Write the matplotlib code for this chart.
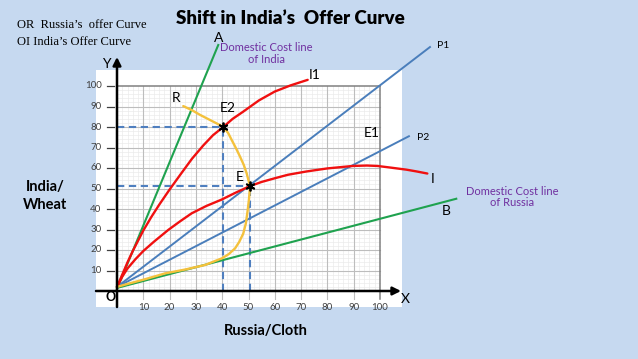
import matplotlib
matplotlib.use("Agg")
import matplotlib.pyplot as plt
from matplotlib.patches import Rectangle

# ---------------- data ----------------
x_ticks = [10, 20, 30, 40, 50, 60, 70, 80, 90, 100]
y_ticks = [10, 20, 30, 40, 50, 60, 70, 80, 90, 100]

# straight lines (start, end)
line_OA_x = [0, 38.5]
line_OA_y = [1, 120]
line_OB_x = [0, 129]
line_OB_y = [1.5, 45]
line_P1_x = [0, 119]
line_P1_y = [2, 119]
line_P2_x = [0, 111]
line_P2_y = [2, 75.5]

# India's offer curve OI1 (shifted)
oi1_x = [0, 2, 4, 6, 8, 10, 13, 16, 20, 24.5, 28.5, 32.8, 36.5,
         40.4, 44, 48, 54, 60, 66, 72.5]
oi1_y = [2, 8, 14, 19.5, 24.5, 29.5, 36, 42, 49.5, 57.5, 64.5, 71, 76,
         80, 84, 87.5, 93, 97.3, 100.3, 103]

# India's offer curve OI
oi_x = [0, 2, 4, 7, 10, 14, 19.5, 24, 28.4, 34, 39.8, 45, 50.6,
        55, 60, 65, 72, 80, 89.7, 95, 99, 104, 110, 114, 118]
oi_y = [2, 7, 11, 15.5, 19.5, 24, 29.8, 34, 37.9, 41.5, 44.6, 47.9, 51.2,
        53.2, 55, 56.7, 58.3, 59.8, 61, 61.2, 61, 60.2, 59.2, 58.3, 57.3]

# Russia's offer curve OR
or_x = [25.2, 28.5, 31.6, 36, 40.4, 42.3, 43.6, 45.3, 46.8, 48.2, 49.3, 50.6,
        50.2, 49.7, 49, 48, 46.5, 44.9, 42.5, 40, 37, 33.5, 26, 18.3, 10, 5, 0]
or_y = [90.2, 88.2, 85.9, 83, 80.1, 77, 73.7, 69.5, 65.5, 61.5, 57.4, 51,
        45, 39.5, 33, 28, 24, 20.8, 18, 16, 14.5, 12.7, 10.5, 8.6, 5.5, 3.8, 2]

# equilibrium points
eq_names = ["E2", "E"]
eq_x = [40.4, 50.6]
eq_y = [80, 51]

# ---------------- layout helpers ----------------
W, H = 638, 359
X0P, X100P = 117, 380   # pixel of x=0, x=100
Y0P, Y100P = 291, 86    # pixel of y=0, y=100
sx = (X100P - X0P) / 100.0
sy = (Y0P - Y100P) / 100.0


def px(xp, yp):
    """pixel (from top-left) -> data coords"""
    return (xp - X0P) / sx, (Y0P - yp) / sy


BG = "#c6d9f0"
GREEN = "#1fa24f"
BLUE = "#4a7ebb"
RED = "#f01010"
YELLOW = "#f4c13c"
PURPLE = "#7030a0"
DASH = "#4f7fbf"
FONT = ["Lato", "DejaVu Sans"]

fig = plt.figure(figsize=(W / 100, H / 100), dpi=100, facecolor=BG)
ax = fig.add_axes([0, 0, 1, 1])
ax.set_facecolor(BG)
x_left, y_top = px(0, 0)
x_right, y_bot = px(W, H)
ax.set_xlim(x_left, x_right)
ax.set_ylim(y_bot, y_top)
ax.axis("off")

# white panel
pl, pt = px(96, 70)
pr, pb = px(402, 307)
ax.add_patch(Rectangle((pl, pb), pr - pl, pt - pb, facecolor="white",
                       edgecolor="none", zorder=0))

# grid
for v in range(0, 101, 2):
    if v % 10 == 0:
        continue
    ax.plot([v, v], [0, 100], color="#ebebeb", lw=0.5, zorder=1)
    ax.plot([0, 100], [v, v], color="#ebebeb", lw=0.5, zorder=1)
for v in range(10, 101, 10):
    c = "#808080" if v == 100 else "#bdbdbd"
    lw = 1.1 if v == 100 else 0.8
    ax.plot([v, v], [-4, 100], color=c, lw=lw, zorder=1)
    ax.plot([0, 100], [v, v], color=c, lw=lw, zorder=1)

# axes with arrows
ax_l, _ = px(96, 0)
x_tip, _ = px(401, 0)
_, y_low = px(0, 307)
_, y_tip = px(0, 57)
ax.annotate("", xy=(x_tip, 0), xytext=(ax_l, 0),
            arrowprops=dict(arrowstyle="-|>", color="black", lw=1.8,
                            mutation_scale=12, shrinkA=0, shrinkB=0), zorder=5)
ax.annotate("", xy=(0, y_tip), xytext=(0, y_low),
            arrowprops=dict(arrowstyle="-|>", color="black", lw=1.8,
                            mutation_scale=12, shrinkA=0, shrinkB=0), zorder=5)

# y ticks & labels
tk0, _ = px(106.5, 0)
tk1, _ = px(114, 0)
lab_x, _ = px(101.5, 0)
for v in y_ticks:
    ax.plot([tk0, tk1], [v, v], color="#404040", lw=0.9, zorder=4)
    ax.text(lab_x, v, str(v), ha="right", va="center", fontsize=7,
            color="#404040", family=FONT, zorder=4)
_, xl_y = px(0, 307.5)
for v in x_ticks:
    ax.text(v, xl_y, str(v), ha="center", va="center", fontsize=7,
            color="#404040", family=FONT, zorder=4)

# dashed guide lines
for ex, ey in zip(eq_x, eq_y):
    ax.plot([0, ex], [ey, ey], color=DASH, lw=1.5, ls=(0, (3.5, 2.2)), zorder=2)
    ax.plot([ex, ex], [0, ey], color=DASH, lw=1.5, ls=(0, (3.5, 2.2)), zorder=2)

# straight lines
ax.plot(line_OA_x, line_OA_y, color=GREEN, lw=1.5, zorder=3)
ax.plot(line_OB_x, line_OB_y, color=GREEN, lw=1.5, zorder=3)
ax.plot(line_P1_x, line_P1_y, color=BLUE, lw=1.4, zorder=3)
ax.plot(line_P2_x, line_P2_y, color=BLUE, lw=1.4, zorder=3)

# offer curves
ax.plot(oi1_x, oi1_y, color=RED, lw=1.7, zorder=3, solid_capstyle="round",
        solid_joinstyle="round")
ax.plot(oi_x, oi_y, color=RED, lw=1.7, zorder=3, solid_capstyle="round",
        solid_joinstyle="round")
ax.plot(or_x, or_y, color=YELLOW, lw=1.7, zorder=3, solid_capstyle="round",
        solid_joinstyle="round")

# equilibrium markers
ax.plot(eq_x, eq_y, ls="none", marker=(6, 2, 0), ms=7, mew=1.3,
        color="black", zorder=6)


def label(xp, yp, s, **kw):
    x, y = px(xp, yp)
    kw.setdefault("family", FONT)
    kw.setdefault("fontsize", 9.5)
    kw.setdefault("color", "black")
    ax.text(x, y, s, ha=kw.pop("ha", "center"), va=kw.pop("va", "center"),
            zorder=7, **kw)


label(290, 18, "Shift in India’s  Offer Curve", fontsize=13.5,
      fontweight="heavy")
label(17, 25, "OR  Russia’s  offer Curve", ha="left", fontsize=9,
      family=["Liberation Serif", "DejaVu Serif"])
label(17, 42, "OI India’s Offer Curve", ha="left", fontsize=9,
      family=["Liberation Serif", "DejaVu Serif"])

label(219, 38, "A", fontsize=10)
label(266, 53.5, "Domestic Cost line\nof India", fontsize=8, color=PURPLE,
      linespacing=1.05)
label(443, 46, "P1", fontsize=7.5)
label(315, 75, "I1", fontsize=10)
label(176, 98, "R", fontsize=10)
label(228, 108, "E2", fontsize=10)
label(372, 133, "E1", fontsize=10)
label(423, 138, "P2", fontsize=7.5)
label(240, 177, "E", fontsize=10)
label(433, 179, "I", fontsize=10)
label(512, 197, "Domestic Cost line\nof Russia", fontsize=8, color=PURPLE,
      linespacing=1.05)
label(446, 211, "B", fontsize=10)
label(106, 64, "Y", fontsize=10)
label(405, 299, "X", fontsize=10)
label(111, 297, "O", fontsize=9, fontweight="bold")
label(45, 196, "India/\nWheat", fontsize=10.5, fontweight="bold",
      linespacing=1.3)
label(266, 331, "Russia/Cloth", fontsize=10.5, fontweight="bold")

fig.savefig("out.png", dpi=100, facecolor=BG)
